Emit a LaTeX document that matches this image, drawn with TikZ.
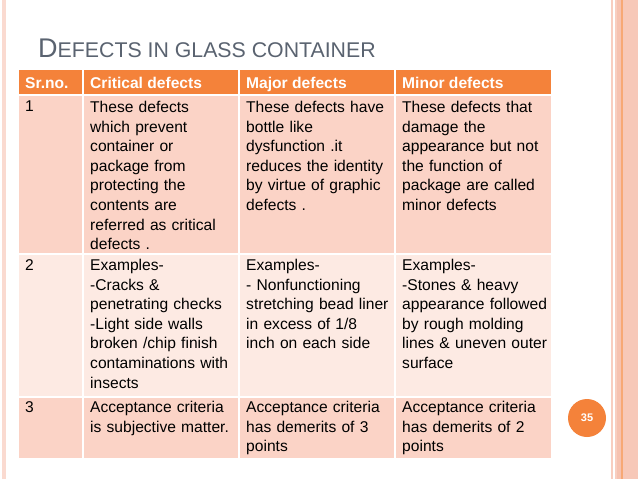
\documentclass[tikz,border=0pt]{standalone}
\usepackage{fontspec}
\setmainfont{Liberation Sans}
\definecolor{hdr}{HTML}{F4823A}
\definecolor{rowa}{HTML}{FBD3C6}
\definecolor{rowb}{HTML}{FDEAE3}
\definecolor{ttl}{HTML}{5A6370}
\definecolor{edge}{HTML}{F6C2B0}
\begin{document}
\begin{tikzpicture}[x=1pt,y=-1pt,
  cell/.style={anchor=north west,inner sep=0pt,text width=#1,align=left,font=\fontsize{15.6}{19.6}\selectfont},
  hcell/.style={anchor=base west,inner sep=0pt,font=\fontsize{15.6}{18}\selectfont\bfseries,text=white}]
\useasboundingbox (0,0) rectangle (638,479);
\fill[white] (0,0) rectangle (638,479);
% side decorations
\fill[edge!60] (2,0) rectangle (6,479);
\fill[edge!80] (611,0) rectangle (613,479);
\fill[edge!80] (615,0) rectangle (617,479);
\fill[edge] (617,0) rectangle (621,479);
\fill[hdr!70] (621,0) rectangle (623,479);
\fill[edge!90] (623,0) rectangle (638,479);
% title
\node[anchor=base west,text=ttl,inner sep=0pt] (title) at (38,57)
  {\fontsize{27}{30}\selectfont D\fontsize{21.3}{24}\selectfont EFECTS IN GLASS CONTAINER};
% rows
\fill[hdr] (19,70) rectangle (551,95);
\fill[rowa] (19,95) rectangle (551,254);
\fill[rowb] (19,254) rectangle (551,397);
\fill[rowa] (19,397) rectangle (551,458);
\foreach \y in {95,254,397} \draw[white,line width=1.5] (19,\y) -- (551,\y);
\foreach \x in {83,239,395} \draw[white,line width=1.5] (\x,70) -- (\x,458);
% header
\node[hcell] (h0) at (25,88) {Sr.no.};
\node[hcell] (h1) at (90,88) {Critical defects};
\node[hcell] (h2) at (246,88) {Major defects};
\node[hcell] (h3) at (402,88) {Minor defects};
% row 1
\node[cell=55] (a0) at (25,101) {1};
\node[cell=155] (a1) at (90,101) {These defects\\which prevent\\container or\\package from\\protecting the\\contents are\\referred as critical\\defects .};
\node[cell=155] (a2) at (246,101) {These defects have\\bottle like\\dysfunction .it\\reduces the identity\\by virtue of graphic\\defects .};
\node[cell=155] (a3) at (402,101) {These defects that\\damage the\\appearance but not\\the function of\\package are called\\minor defects};
% row 2
\node[cell=55] (b0) at (25,259) {2};
\node[cell=155] (b1) at (90,259) {Examples-\\-Cracks \&\\penetrating checks\\-Light side walls\\broken /chip finish\\contaminations with\\insects};
\node[cell=155] (b2) at (246,259) {Examples-\\- Nonfunctioning\\stretching bead liner\\in excess of 1/8\\inch on each side};
\node[cell=155] (b3) at (402,259) {Examples-\\-Stones \& heavy\\appearance followed\\by rough molding\\lines \& uneven outer\\surface};
% row 3
\node[cell=55] (c0) at (25,401) {3};
\node[cell=155] (c1) at (90,401) {Acceptance criteria\\is subjective matter.};
\node[cell=155] (c2) at (246,401) {Acceptance criteria\\has demerits of 3\\points};
\node[cell=155] (c3) at (402,401) {Acceptance criteria\\has demerits of 2\\points};
% page number
\node[circle,fill=hdr,minimum size=38,inner sep=0pt,text=white,font=\fontsize{11}{12}\selectfont\bfseries] (pg) at (587,418) {35};
\end{tikzpicture}
\end{document}
